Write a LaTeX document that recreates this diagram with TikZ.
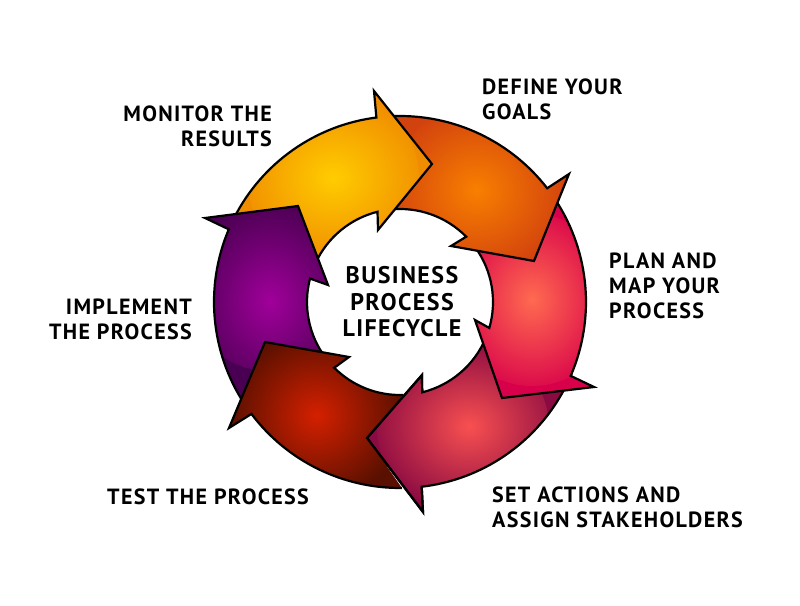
\documentclass[tikz,border=0pt]{standalone}
\usepackage{fontspec}
\setmainfont{PT Sans}
\newfontfamily\labfont[LetterSpace=6,WordSpace=1.5]{PT Sans}
\newfontfamily\midfont[LetterSpace=6]{PT Sans}
\usetikzlibrary{calc}
\definecolor{yelI}{HTML}{FFCC00}\definecolor{yelO}{HTML}{F08C00}
\definecolor{oraI}{HTML}{F87F00}\definecolor{oraO}{HTML}{D2420E}
\definecolor{redI}{HTML}{FF6A50}\definecolor{redO}{HTML}{D8004A}
\definecolor{magI}{HTML}{F85050}\definecolor{magO}{HTML}{8A0A42}
\definecolor{drkI}{HTML}{D42000}\definecolor{drkO}{HTML}{5A1000}
\definecolor{purI}{HTML}{A0009A}\definecolor{purO}{HTML}{4A0052}
\tikzset{
  edge/.style={draw=black,line width=2.2pt,miter limit=20,line join=miter},
  lab/.style={font=\labfont\bfseries\fontsize{22}{25}\selectfont,inner sep=0pt,text=black}
}
% outer from, outer to, head points, inner from, inner to, centre, inner colour, outer colour
\newcommand\Arw[8]{%
  \draw[edge,fill=#8,path picture={\shade[inner color=#7,outer color=#8] #6 circle[radius=86];}]
    ($(O)+(#1:186)$) arc[start angle=#1,end angle=#2,radius=186] -- #3
    -- ($(O)+(#4:93)$) arc[start angle=#4,end angle=#5,radius=93] -- cycle;}
\begin{document}
\begin{tikzpicture}[x=1pt,y=-1pt]
\useasboundingbox (0,0) rectangle (800,605);
\coordinate (O) at (400,302);
% magenta: set actions
\Arw{23}{83.3}{(423,512) -- (367,438) -- (422,375)}{76.2}{23}{(463,428)}{magI}{magO}
% red: plan
\Arw{-33}{23.4}{(594,387) -- (502,398) -- (475,320)}{16.2}{-36}{(532,300)}{redI}{redO}
% orange: define
\Arw{-95}{-37.7}{(569,174) -- (534,261) -- (451,246)}{-44.6}{-97}{(478,190)}{oraI}{oraO}
% yellow: monitor
\Arw{-153}{-97.3}{(374,91) -- (432,164) -- (378,230)}{-104}{-155}{(333,178)}{yelI}{yelO}
% purple: implement
\Arw{147}{203}{(205,218) -- (298,206) -- (328,285)}{194.6}{143}{(270,285)}{purI}{purO}
% dark red: test (tail abuts the magenta head)
\fill[drkO,path picture={\shade[inner color=drkI,outer color=drkO] (318,415) circle[radius=86];}]
  ($(O)+(89.4:186)$) arc[start angle=89.4,end angle=143,radius=186]
  -- (229,428) -- (265,342) -- (349,357)
  -- ($(O)+(135:93)$) arc[start angle=135,end angle=88,radius=93]
  -- (367,438) -- cycle;
\draw[edge]
  ($(O)+(89.4:186)$) arc[start angle=89.4,end angle=143,radius=186]
  -- (229,428) -- (265,342) -- (349,357)
  -- ($(O)+(135:93)$) arc[start angle=135,end angle=88,radius=93];
\draw[edge] ($(O)+(83.3:186)$) -- (423,512) -- (367,438) -- (422,375) -- ($(O)+(76.2:93)$);
% labels
\node[lab,anchor=east,align=right] (monitor) at (272,126) {MONITOR THE\\RESULTS};
\node[lab,anchor=west,align=left] (define) at (482,99) {DEFINE YOUR\\GOALS};
\node[lab,anchor=west,align=left] (plan) at (609,286) {PLAN AND\\MAP YOUR\\PROCESS};
\node[lab,anchor=west,align=left] (actions) at (492,507) {SET ACTIONS AND\\ASSIGN STAKEHOLDERS};
\node[lab,anchor=west] (test) at (107,497) {TEST THE PROCESS};
\node[lab,anchor=east,align=right] (implement) at (192,319) {IMPLEMENT\\THE PROCESS};
\node[lab,align=center,font=\midfont\bfseries\fontsize{24}{26.5}\selectfont] (centre) at (402,302) {BUSINESS\\PROCESS\\LIFECYCLE};
\end{tikzpicture}
\end{document}
